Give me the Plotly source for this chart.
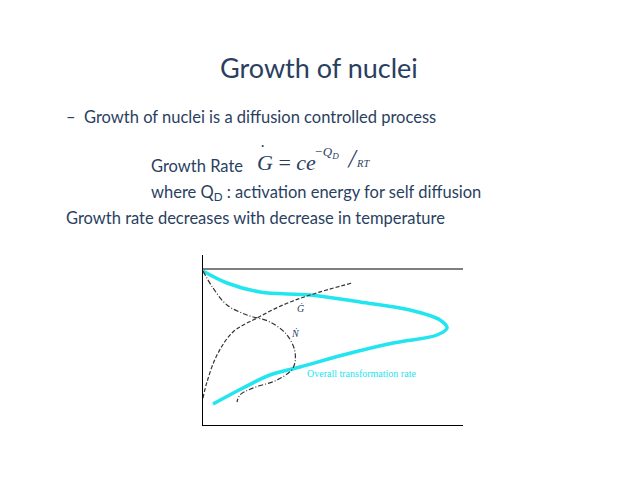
import plotly.graph_objects as go

# curve points (rate, temperature), arbitrary units
overall_x = [0, 24, 57, 107, 157, 207, 237, 244, 234, 190, 140, 97, 67, 40, 10]
overall_y = [154, 142, 133, 130, 123, 115, 105, 97, 90, 82, 70, 58, 50, 37, 21]

growth_x = [0, 4, 14, 30, 54, 80, 107, 149]
growth_y = [27, 43, 70, 93, 107, 120, 130, 142]

nucl_x = [0, 10, 24, 44, 67, 84, 92, 90, 74, 50, 37, 34]
nucl_y = [154, 137, 120, 110, 103, 90, 73, 57, 45, 37, 30, 23]

t_melt = 156

# page is drawn with an 8px body margin, so pull everything back a bit
OX, OY = 8, 8
W, H = 638, 478

def px(x):
    return (x - OX) / W

def py(y):
    return 1 - (y - OY) / H

fig = go.Figure()
fig.add_trace(go.Scatter(x=overall_x, y=overall_y, mode="lines",
                         line=dict(color="#22e5f0", width=3.5, shape="spline")))
fig.add_trace(go.Scatter(x=growth_x, y=growth_y, mode="lines",
                         line=dict(color="#333", width=1.2, dash="4px,2px", shape="spline")))
fig.add_trace(go.Scatter(x=nucl_x, y=nucl_y, mode="lines",
                         line=dict(color="#333", width=1.2, dash="5px,2px,1px,2px", shape="spline")))
fig.add_shape(type="line", x0=0, x1=260, y0=t_melt, y1=t_melt,
              line=dict(color="black", width=1.2))

serif = "Liberation Serif"
sans = "Lato"
notes = [
    dict(x=-4, y=t_melt + 2, xref="x", yref="y", text="<i>T<sub>m</sub></i>", xanchor="right",
         font=dict(family=serif, size=10)),
    dict(x=97, y=117, xref="x", yref="y", text="<i>Ġ</i>", font=dict(family=serif, size=10)),
    dict(x=92, y=92, xref="x", yref="y", text="<i>Ṅ</i>", font=dict(family=serif, size=10)),
    dict(x=102, y=52, xref="x", yref="y", text="Overall transformation rate", xanchor="left",
         font=dict(family=serif, size=10, color="#22e5f0")),
    dict(x=-25, y=85, xref="x", yref="y", text="Temperature, <i>T</i>", textangle=-90,
         font=dict(family=serif, size=10)),
    dict(x=134, y=-13, xref="x", yref="y", text="Rate, (s<sup>−1</sup>)",
         font=dict(family=serif, size=10)),
    dict(x=px(319), y=py(67), xref="paper", yref="paper", text="Growth of nuclei",
         font=dict(family=sans, size=27)),
    dict(x=px(64), y=py(117), xref="paper", yref="paper", xanchor="left",
         text="–  Growth of nuclei is a diffusion controlled process", font=dict(family=sans, size=16.5)),
    dict(x=px(149), y=py(166), xref="paper", yref="paper", xanchor="left",
         text="Growth Rate", font=dict(family=sans, size=16.5)),
    dict(x=px(255), y=py(162), xref="paper", yref="paper", xanchor="left",
         text="<i>G</i> = <i>ce</i>", font=dict(family=serif, size=22)),
    dict(x=px(263), y=py(146), xref="paper", yref="paper", text="·",
         font=dict(family=serif, size=16)),
    dict(x=px(312), y=py(152), xref="paper", yref="paper", xanchor="left",
         text="<i>−Q<sub>D</sub></i>", font=dict(family=serif, size=13)),
    dict(x=px(345), y=py(160), xref="paper", yref="paper", xanchor="left",
         text="╱<i><sub>RT</sub></i>", font=dict(family=serif, size=15)),
    dict(x=px(149), y=py(192), xref="paper", yref="paper", xanchor="left",
         text="where Q<sub>D</sub> : activation energy for self diffusion", font=dict(family=sans, size=16.5)),
    dict(x=px(64), y=py(218), xref="paper", yref="paper", xanchor="left",
         text="Growth rate decreases with decrease in temperature", font=dict(family=sans, size=16.5)),
]
for n in notes:
    n["showarrow"] = False
    n["yanchor"] = "middle"
    fig.add_annotation(**n)

fig.update_layout(
    width=W, height=H, margin=dict(l=0, r=0, t=0, b=0),
    paper_bgcolor="white", plot_bgcolor="white", showlegend=False,
    xaxis=dict(domain=[px(203), px(463)], range=[0, 260], showline=True, linecolor="black",
               showgrid=False, zeroline=False, showticklabels=False, ticks=""),
    yaxis=dict(domain=[py(425), py(255)], range=[0, 170], showline=True, linecolor="black",
               showgrid=False, zeroline=False, showticklabels=False, ticks=""),
)
fig.write_html("out.html")
